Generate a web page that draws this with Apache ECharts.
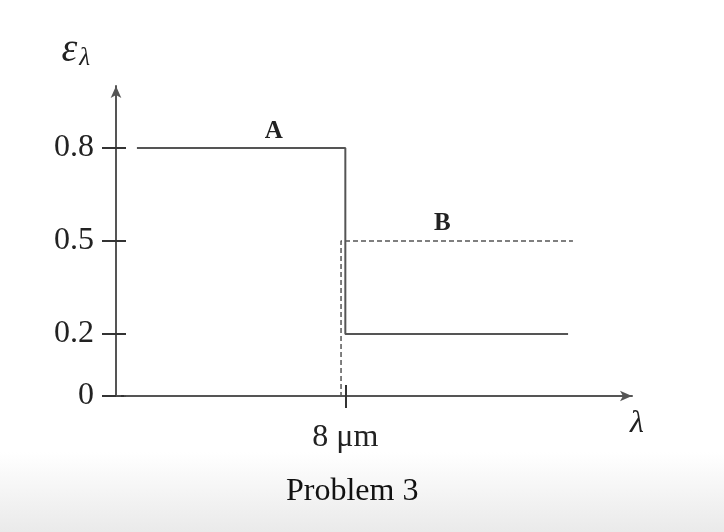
<!DOCTYPE html>
<html>
<head>
<meta charset="utf-8">
<script src="https://cdn.jsdelivr.net/npm/echarts@6/dist/echarts.min.js"></script>
<style>
html,body{margin:0;padding:0;background:#fff;}
#chart{width:724px;height:532px;}
</style>
</head>
<body>
<div id="chart"></div>
<script>
// Surface A: emissivity 0.8 below 8 um, 0.2 above
var lambdaA = [0.73, 8, 8, 15.77];
var epsA = [0.8, 0.8, 0.2, 0.2];
// Surface B: emissivity 0 below 8 um, 0.5 above
var lambdaB = [0, 7.85, 7.85, 15.94];
var epsB = [0, 0, 0.5, 0.5];
var yTicks = [0, 0.2, 0.5, 0.8];
var xTicks = [8];
var xTickLabel = '8 μm';
var seriesNames = ['A', 'B'];
var labelPosA = [5.5, 0.8];
var labelPosB = [11.38, 0.5];

function pairs(xs, ys) { return xs.map(function (x, i) { return [x, ys[i]]; }); }

var serif = '"Liberation Serif", "DejaVu Serif", serif';
var lineCol = '#555';
var axisCol = '#555';

var chart = echarts.init(document.getElementById('chart'));
chart.setOption({
  animation: false,
  backgroundColor: {
    type: 'linear', x: 0, y: 0, x2: 0, y2: 1,
    colorStops: [
      { offset: 0, color: '#ffffff' },
      { offset: 0.85, color: '#ffffff' },
      { offset: 1, color: '#eaeaea' }
    ]
  },
  title: {
    text: 'Problem 3',
    left: 281, top: 471,
    textStyle: { fontFamily: serif, fontSize: 32, fontWeight: 'normal', color: '#111' }
  },
  grid: { left: 116, right: 92, top: 86, bottom: 136 },
  xAxis: [{
    type: 'value', min: 0, max: 18,
    name: 'λ', nameLocation: 'end', nameGap: 5,
    nameTextStyle: { fontFamily: serif, fontStyle: 'italic', fontSize: 32, color: '#222',
      align: 'center', verticalAlign: 'top', padding: [12, 0, 0, 0] },
    axisLine: { show: true, symbol: ['none', 'arrow'], symbolSize: [8, 12],
      lineStyle: { color: axisCol, width: 2 } },
    axisTick: { show: true, customValues: xTicks, length: 12, lineStyle: { color: '#333', width: 2 } },
    axisLabel: { show: true, customValues: xTicks, margin: 26, formatter: function () { return xTickLabel; },
      fontFamily: serif, fontSize: 32, color: '#222' },
    splitLine: { show: false }
  }, {
    type: 'value', min: 0, max: 18, position: 'bottom',
    axisLine: { show: false },
    axisTick: { show: true, inside: true, customValues: xTicks, length: 11, lineStyle: { color: '#333', width: 2 } },
    axisLabel: { show: false },
    splitLine: { show: false }
  }],
  yAxis: [{
    type: 'value', min: 0, max: 1,
    name: '{e|ε}{s|λ}', nameLocation: 'end', nameGap: 15,
    nameTextStyle: {
      align: 'right', padding: [0, 26, 0, 0],
      rich: {
        e: { fontFamily: serif, fontStyle: 'italic', fontSize: 40, color: '#222' },
        s: { fontFamily: serif, fontStyle: 'italic', fontSize: 25, color: '#222', padding: [16, 0, 0, 2] }
      }
    },
    axisLine: { show: true, symbol: ['none', 'arrow'], symbolSize: [8, 12],
      lineStyle: { color: axisCol, width: 2 } },
    axisTick: { show: true, customValues: yTicks, length: 14, lineStyle: { color: '#333', width: 2 } },
    axisLabel: { show: true, customValues: yTicks, margin: 22,
      formatter: function (v) { return String(v); },
      fontFamily: serif, fontSize: 32, color: '#222' },
    splitLine: { show: false }
  }, {
    type: 'value', min: 0, max: 1, position: 'left',
    axisLine: { show: false },
    axisTick: { show: true, inside: true, customValues: yTicks, length: 10, lineStyle: { color: '#333', width: 2 } },
    axisLabel: { show: false },
    splitLine: { show: false }
  }],
  series: [{
    name: seriesNames[0], type: 'line', xAxisIndex: 0, yAxisIndex: 0,
    data: pairs(lambdaA, epsA), symbol: 'none', z: 3,
    lineStyle: { color: lineCol, width: 2 },
    markPoint: {
      symbol: 'circle', symbolSize: 1, itemStyle: { color: 'rgba(0,0,0,0)' },
      label: { show: true, position: 'top', distance: 3, formatter: seriesNames[0],
        fontFamily: serif, fontWeight: 'bold', fontSize: 25, color: '#222' },
      data: [{ coord: labelPosA }]
    }
  }, {
    name: seriesNames[1], type: 'line', xAxisIndex: 0, yAxisIndex: 0,
    data: pairs(lambdaB, epsB), symbol: 'none', z: 4,
    lineStyle: { color: lineCol, width: 1.5, type: [5, 3] },
    markPoint: {
      symbol: 'circle', symbolSize: 1, itemStyle: { color: 'rgba(0,0,0,0)' },
      label: { show: true, position: 'top', distance: 4, formatter: seriesNames[1],
        fontFamily: serif, fontWeight: 'bold', fontSize: 25, color: '#222' },
      data: [{ coord: labelPosB }]
    }
  }]
});
</script>
</body>
</html>
